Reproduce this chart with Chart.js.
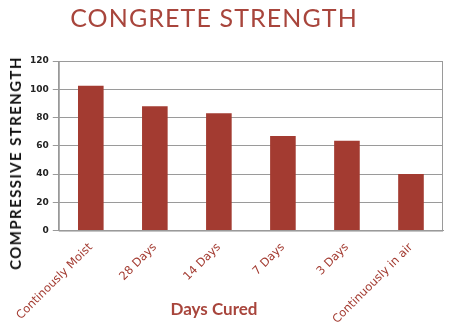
<!DOCTYPE html>
<html>
<head>
<meta charset="utf-8">
<script src="https://cdn.jsdelivr.net/npm/chart.js@4/dist/chart.umd.min.js"></script>
<style>
  body { margin: 0; background: #fff; }
  #wrap { position: relative; width: 450px; height: 330px; font-family: Lato, sans-serif; }
  #chart { position: absolute; left: 0; top: 0; }
  #title { position: absolute; left: 0; top: 2px; width: 428px; text-align: center;
           font: 25px Lato, sans-serif; letter-spacing: 1.1px; color: #a8453c; }
  #ytitle { position: absolute; left: 15px; top: 163px; transform: translate(-50%, -50%) rotate(-90deg);
            font: bold 15px Lato, sans-serif; letter-spacing: 1.4px; white-space: nowrap; color: #111; }
  #xtitle { position: absolute; left: 214px; top: 308px; transform: translate(-50%, -50%);
            font: bold 17px Lato, sans-serif; color: #a8453c; white-space: nowrap; }
</style>
</head>
<body>
<div id="wrap">
  <canvas id="chart" width="450" height="330"></canvas>
  <div id="title">CONGRETE STRENGTH</div>
  <div id="ytitle">COMPRESSIVE STRENGTH</div>
  <div id="xtitle">Days Cured</div>
</div>
<script>
const categories = ["Continously Moist", "28 Days", "14 Days", "7 Days", "3 Days", "Continuously in air"];
const strength = [102.5, 88, 83, 67, 63.5, 40];
const yTicks = [0, 20, 40, 60, 80, 100, 120];

const RED = "#a33b31";

// box round the plot, like the original
const frame = {
  id: "frame",
  afterDraw(chart) {
    const a = chart.chartArea, ctx = chart.ctx;
    ctx.save();
    ctx.strokeStyle = "#9a9a9a";
    ctx.lineWidth = 1;
    ctx.strokeRect(a.left + 0.5, a.top + 0.5, a.right - a.left - 1, a.bottom - a.top);
    ctx.restore();
  }
};

new Chart(document.getElementById("chart"), {
  type: "bar",
  data: {
    labels: categories,
    datasets: [{
      data: strength,
      backgroundColor: RED,
      barPercentage: 0.4,
      categoryPercentage: 1
    }]
  },
  options: {
    responsive: false,
    animation: false,
    layout: { padding: { left: 26, top: 61, right: 7, bottom: 1.5 } },
    plugins: { legend: { display: false }, tooltip: { enabled: false } },
    scales: {
      x: {
        grid: { display: false },
        border: { color: "#9a9a9a" },
        ticks: {
          color: "#a33b31",
          font: { family: "DejaVu Sans", size: 11.5 },
          minRotation: 45, maxRotation: 45, padding: 2
        }
      },
      y: {
        min: 0, max: 120,
        afterBuildTicks(scale) { scale.ticks = yTicks.map(v => ({ value: v })); },
        grid: { color: "#9a9a9a", drawTicks: true, tickLength: 6 },
        border: { color: "#9a9a9a" },
        ticks: { color: "#222", font: { family: "DejaVu Sans", size: 9, weight: "bold" }, padding: 4 }
      }
    }
  },
  plugins: [frame]
});
</script>
</body>
</html>
